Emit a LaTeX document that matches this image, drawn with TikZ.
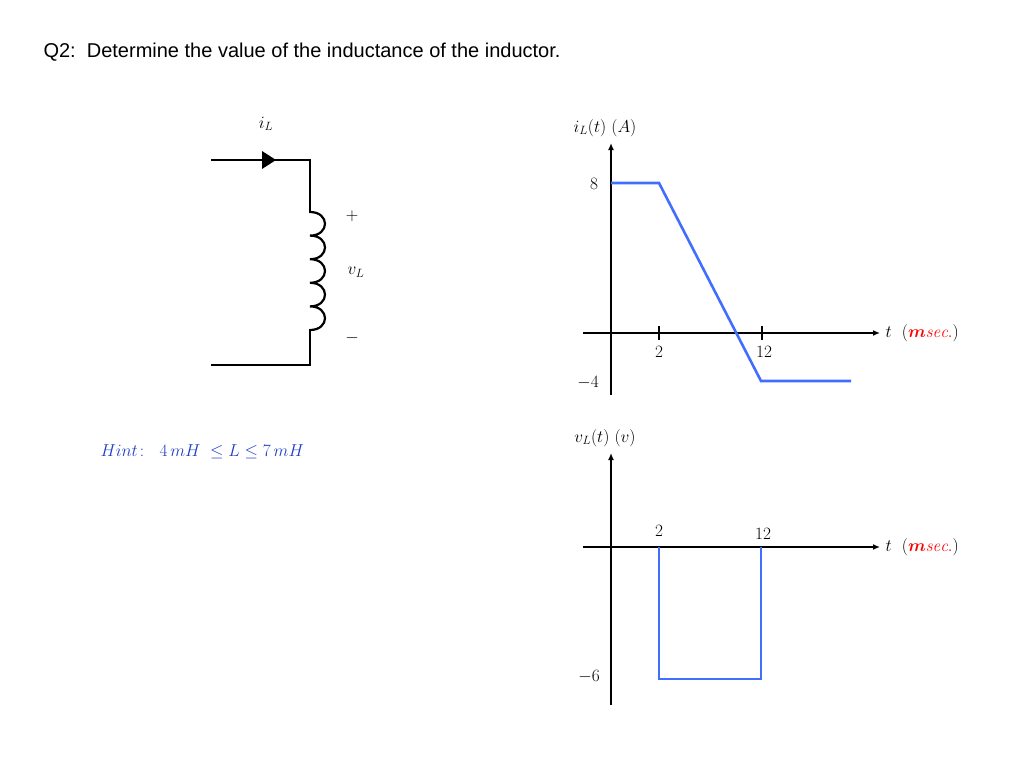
\documentclass[tikz,border=0pt]{standalone}
\usepackage{amsmath}
\usepackage{fontspec}
\newfontfamily\arialf{Liberation Sans}
\usetikzlibrary{arrows.meta}
\definecolor{bl}{RGB}{66,110,255}
\definecolor{hintc}{RGB}{30,60,200}
\begin{document}
\begin{tikzpicture}[x=1pt,y=-1pt,
  wire/.style={line width=2.6pt},
  ax/.style={line width=1.5pt,-{Latex[length=7pt,width=6pt]}},
  sig/.style={bl,line width=2.6pt},
  lbl/.style={font=\fontsize{17}{20}\selectfont},
  tk/.style={line width=1.2pt}]
\useasboundingbox (0,0) rectangle (1024,757);
\node[anchor=west,font=\arialf\fontsize{20}{24}\selectfont] (title) at (40,52) {Q2:\ \ Determine the value of the inductance of the inductor.};
% circuit
\coordinate (a) at (212,160); \coordinate (b) at (310,160);
\coordinate (c) at (310,212); \coordinate (d) at (310,330);
\coordinate (e) at (310,365); \coordinate (f) at (212,365);
\draw[wire,line cap=rect] (a) -- (b) -- (c);
\draw[wire,line cap=rect] (d) -- (e) -- (f);
\fill (276,160) -- (262,151) -- (262,169) -- cycle;
\draw[line width=2.2pt] (c) foreach \i in {0,...,4} { .. controls (330,212+23.6*\i) and (330,235.6+23.6*\i) .. (310,235.6+23.6*\i) };
\node[lbl] (iL) at (266,124) {$i_L$};
\node[lbl] (plus) at (352,216) {$+$};
\node[lbl] (vL) at (356,272) {$v_L$};
\node[lbl] (minus) at (352,338) {$-$};
\node[anchor=west,text=hintc,font=\fontsize{16}{20}\selectfont] (hint) at (97,452) {$Hint\colon\ \ 4\,mH\ \le L \le 7\,mH$};
% graph 1
\coordinate (y1b) at (611,395); \coordinate (y1t) at (611,143);
\coordinate (x1l) at (583,333); \coordinate (x1r) at (880,333);
\draw[ax] (y1b) -- (y1t);
\draw[ax] (x1l) -- (x1r);
\draw[tk] (659,326) -- (659,340); \draw[tk] (762,326) -- (762,340);
\draw[sig] (611,183) -- (659,183) -- (761,381) -- (851,381);
\node[lbl] (l8) at (594,184) {$8$};
\node[lbl] (lm4) at (588,383) {$-4$};
\node[lbl] (l2) at (659,352) {$2$};
\node[lbl] (l12) at (764,352) {$12$};
\node[lbl,anchor=south] (ti1) at (605,140) {$i_L(t)\ (A)$};
\node[lbl,anchor=west] (t1) at (882,333) {$t\ \ (\textcolor{red}{\boldsymbol{m}\mathit{sec.}})$};
% graph 2
\coordinate (y2b) at (611,705); \coordinate (y2t) at (611,453);
\coordinate (x2l) at (583,547); \coordinate (x2r) at (880,547);
\draw[ax] (y2b) -- (y2t);
\draw[ax] (x2l) -- (x2r);
\draw[sig] (659,547) -- (659,679) -- (761,679) -- (761,547);
\node[lbl] (m2) at (659,531) {$2$};
\node[lbl] (m12) at (763,534) {$12$};
\node[lbl] (m6) at (589,677) {$-6$};
\node[lbl,anchor=south] (ti2) at (605,450) {$v_L(t)\ (v)$};
\node[lbl,anchor=west] (t2) at (882,547) {$t\ \ (\textcolor{red}{\boldsymbol{m}\mathit{sec.}})$};
\end{tikzpicture}
\end{document}
